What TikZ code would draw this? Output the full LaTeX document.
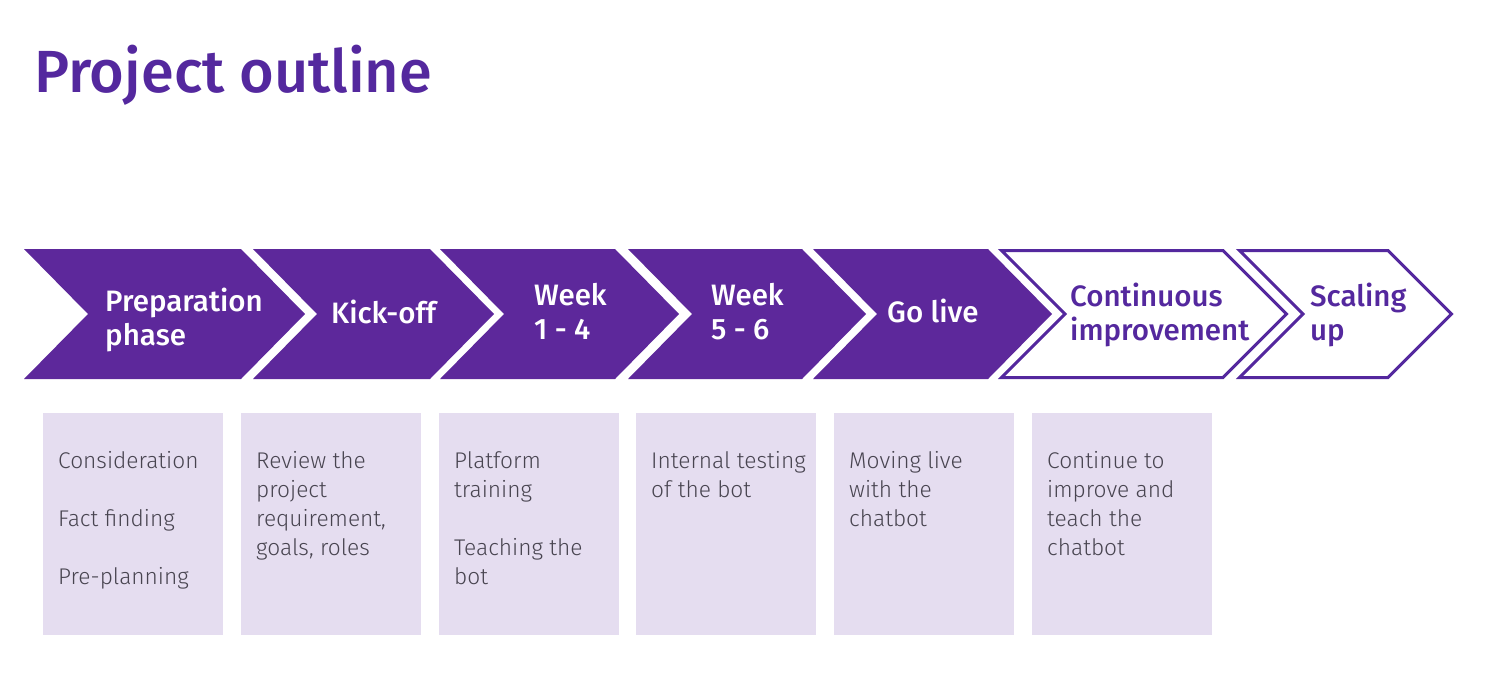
\documentclass[tikz,border=0pt]{standalone}
\usepackage{fontspec}
\setmainfont{Fira Sans}[UprightFont=* Light, BoldFont=* Medium]
\newfontfamily\hfont{Fira Sans Medium}
\definecolor{chevfill}{RGB}{93,40,155}
\definecolor{titlecol}{RGB}{84,40,158}
\definecolor{boxfill}{RGB}{229,221,240}
\definecolor{bodytext}{RGB}{72,68,80}
\tikzset{
  chevfilled/.style={fill=chevfill, draw=none},
  chevline/.style={draw=titlecol, line width=3pt, fill=white, line join=miter},
  headw/.style={anchor=base west, align=left, inner sep=0pt, text=white, font=\hfont\fontsize{29.5}{34}\selectfont},
  headp/.style={headw, text=titlecol},
  stagebox/.style={fill=boxfill, draw=none, minimum width=180pt, minimum height=222pt, inner sep=0pt, anchor=north west},
  bodyt/.style={anchor=base west, align=left, inner sep=0pt, text=bodytext, font=\fontsize{22.7}{29}\selectfont},
}
\begin{document}
\begin{tikzpicture}[x=1pt, y=-1pt]
\useasboundingbox (0,0) rectangle (1485,680);
\node[anchor=base west, inner sep=0pt, text=titlecol, font=\hfont\fontsize{59.5}{60}\selectfont] (title) at (34,92) {Project outline};
% filled chevrons
\foreach \a/\b in {24/241, 253/430, 440/615, 628/802, 813/988}{
  \path[chevfilled] (\a,249) -- (\b,249) -- (\b+64,314) -- (\b,379) -- (\a,379) -- (\a+64,314) -- cycle;
}
% outlined chevrons
\foreach \a/\b in {1001.5/1223, 1239.5/1388}{
  \path[chevline] (\a,250.5) -- (\b,250.5) -- (\b+63.5,314) -- (\b,377.5) -- (\a,377.5) -- (\a+63.5,314) -- cycle;
}
% header texts (base = baseline of last line)
\node[headw] (c1) at (105,345) {Preparation\\phase};
\node[headw] (c2) at (331,323) {Kick-off};
\node[headw] (c3) at (534,339) {Week\\1 - 4};
\node[headw] (c4) at (711,339) {Week\\5 - 6};
\node[headw] (c5) at (887,322) {Go live};
\node[headp] (c6) at (1070,340) {Continuous\\improvement};
\node[headp] (c7) at (1310,340) {Scaling\\up};
% boxes
\node[stagebox] (b1) at (43,413) {};
\node[stagebox] (b2) at (241,413) {};
\node[stagebox] (b3) at (439,413) {};
\node[stagebox] (b4) at (636,413) {};
\node[stagebox] (b5) at (834,413) {};
\node[stagebox] (b6) at (1032,413) {};
\node[bodyt] (t1) at (58,584) {Consideration\\[29pt]Fact finding\\[29pt]Pre-planning};
\node[bodyt] (t2) at (256,555) {Review the\\project\\requirement,\\goals, roles};
\node[bodyt] (t3) at (454,584) {Platform\\training\\[29pt]Teaching the\\bot};
\node[bodyt] (t4) at (651,497) {Internal testing\\of the bot};
\node[bodyt] (t5) at (849,526) {Moving live\\with the\\chatbot};
\node[bodyt] (t6) at (1047,555) {Continue to\\improve and\\teach the\\chatbot};
\end{tikzpicture}
\end{document}
